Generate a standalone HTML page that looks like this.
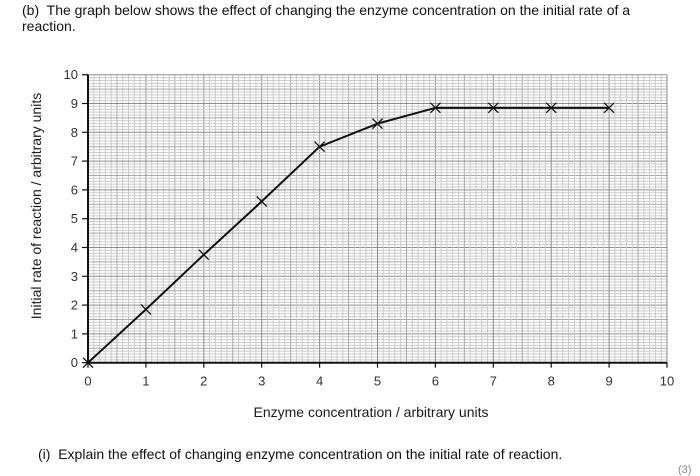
<!DOCTYPE html>
<html><head><meta charset="utf-8"><style>
body{margin:0;width:700px;height:476px;background:#fff;overflow:hidden;font-family:"Liberation Sans",sans-serif;}
.t{position:absolute;font-size:14px;color:#111;}
</style></head><body>
<div class="t" style="left:22px;top:2px;line-height:16px;">(b)&nbsp; The graph below shows the effect of changing the enzyme concentration on the initial rate of a<br>reaction.</div>
<svg id="c" width="700" height="476" style="position:absolute;left:0;top:0"></svg>
<div class="t" style="left:38px;top:446px;">(i)&nbsp; Explain the effect of changing enzyme concentration on the initial rate of reaction.</div>
<div class="t" style="left:678px;top:464px;color:#888;font-size:11px;">(3)</div>
<script>
const xs=[0,1,2,3,4,5,6,7,8,9];
const ys=[0,1.85,3.75,5.6,7.5,8.3,8.85,8.85,8.85,8.85];
const xTicks=[0,1,2,3,4,5,6,7,8,9,10];
const yTicks=[0,1,2,3,4,5,6,7,8,9,10];
const NS="http://www.w3.org/2000/svg",svg=document.getElementById('c');
const X=v=>88+v*57.9, Y=v=>362.7-v*28.8;
function el(t,a,p){const e=document.createElementNS(NS,t);for(const k in a)e.setAttribute(k,a[k]);(p||svg).appendChild(e);return e;}
const g=el('g',{});


for(let i=0;i<=100;i++){
  const c=i%10==0?'#8e8e8e':(i%5==0?'#a8a8a8':'#cbcbcb');
  el('line',{x1:X(i/10),x2:X(i/10),y1:Y(0),y2:Y(10),stroke:c,'stroke-width':1},g);
  el('line',{x1:X(0),x2:X(10),y1:Y(i/10),y2:Y(i/10),stroke:c,'stroke-width':1},g);
}
const ax=el('path',{d:`M${X(0)} ${Y(10)}V${Y(0)}H${X(10)}`,stroke:'#111','stroke-width':2,fill:'none'});


yTicks.forEach(v=>{
  el('line',{x1:X(0)-6,x2:X(0),y1:Y(v),y2:Y(v),stroke:'#111','stroke-width':1.2});
  const t=el('text',{x:X(0)-10,y:Y(v)+4.5,'text-anchor':'end','font-size':13,fill:'#333'});
  t.textContent=v;
  
  
});
xTicks.forEach(v=>{
  el('line',{x1:X(v),x2:X(v),y1:Y(0),y2:Y(0)+5,stroke:'#111','stroke-width':1.2});
  const t=el('text',{x:X(v),y:Y(0)+23,'text-anchor':'middle','font-size':13,fill:'#333'});
  t.textContent=v;
  
  
});
const xl=el('text',{x:371,y:417,'text-anchor':'middle','font-size':14,fill:'#1a1a1a'});
xl.textContent='Enzyme concentration / arbitrary units';


const yl=el('text',{x:0,y:0,'text-anchor':'middle','font-size':14,fill:'#1a1a1a',transform:'translate(41,206) rotate(-90)'});
yl.textContent='Initial rate of reaction / arbitrary units';


const ln=el('polyline',{points:xs.map((x,i)=>X(x)+','+Y(ys[i])).join(' '),fill:'none',stroke:'#111','stroke-width':2});


xs.forEach((x,i)=>{
  const cx=X(x),cy=Y(ys[i]);
  const m=el('path',{d:`M${cx-5} ${cy-5}L${cx+5} ${cy+5}M${cx+5} ${cy-5}L${cx-5} ${cy+5}`,stroke:'#111','stroke-width':1.3});
  
  
});
</script>
</body></html>
